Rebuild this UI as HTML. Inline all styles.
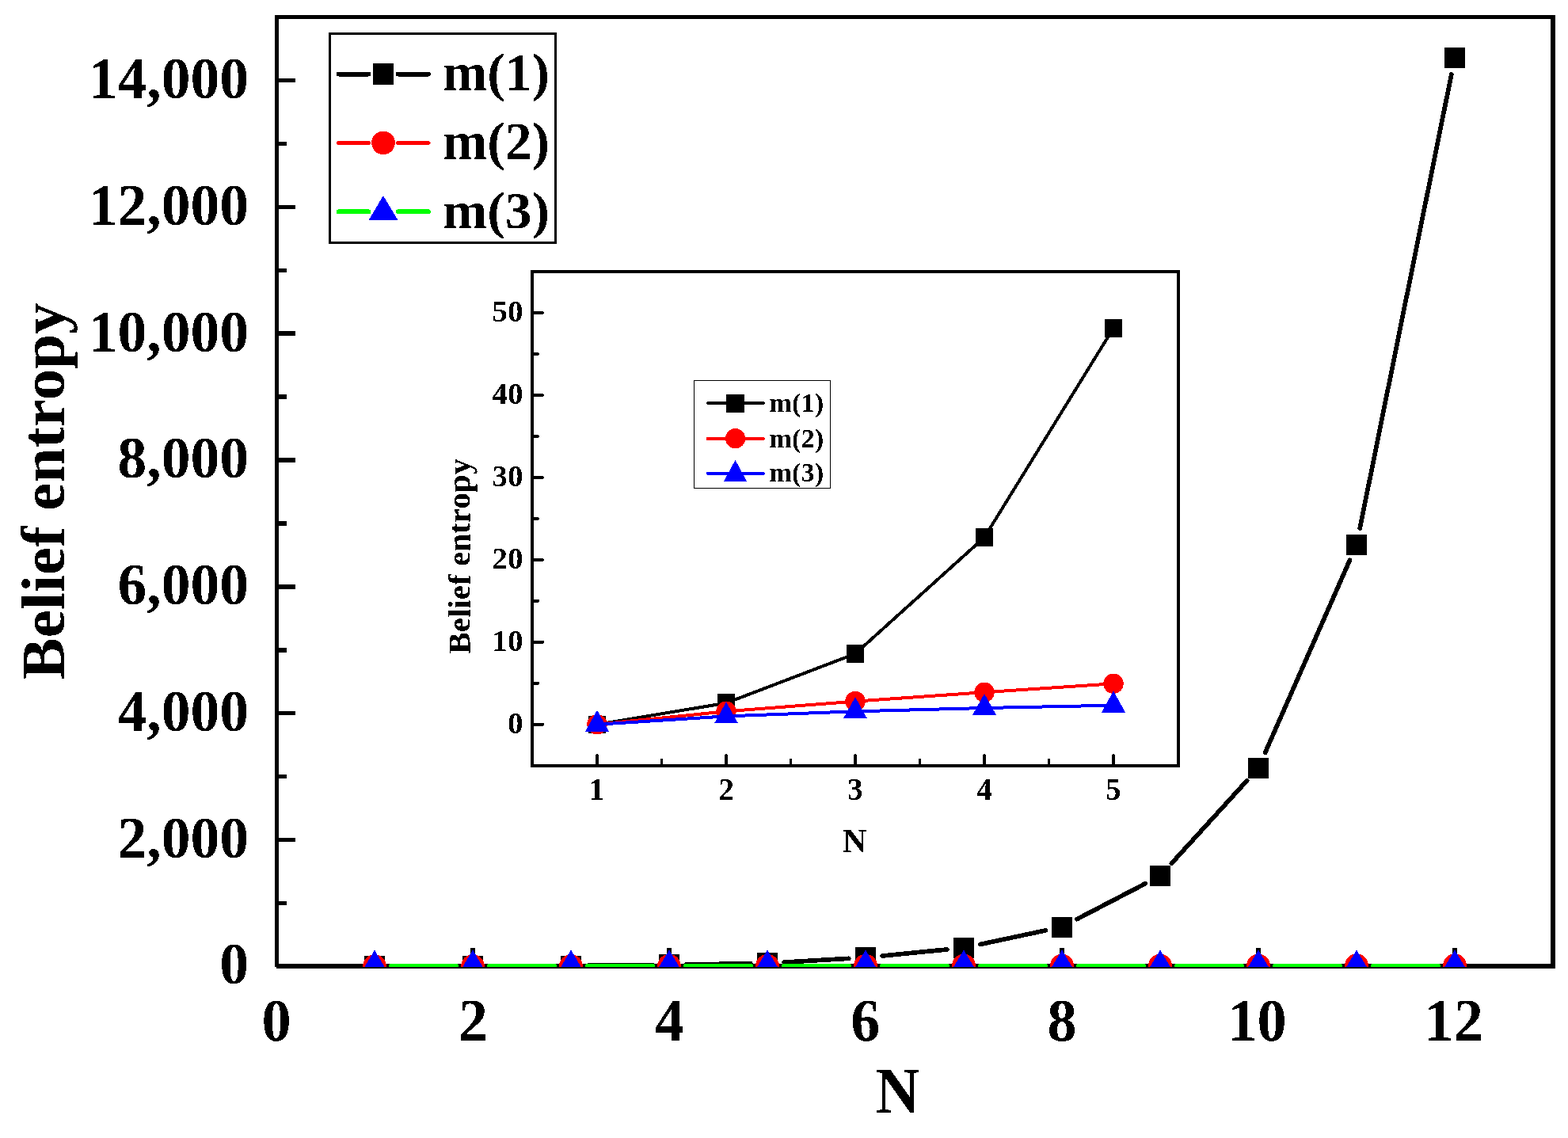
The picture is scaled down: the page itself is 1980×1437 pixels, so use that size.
<!DOCTYPE html><html><head><meta charset="utf-8"><title>Belief entropy</title><style>html,body{margin:0;padding:0;background:#fff;}svg{display:block;}rect,line,path,polyline,polygon,circle{shape-rendering:crispEdges;}text{filter:url(#bin);font-family:"Liberation Serif","Times New Roman",serif;font-weight:bold;font-size:200px;fill:#000;}</style></head><body>
<svg width="1980" height="1437" viewBox="0 0 1980 1437">
<rect x="0" y="0" width="1980" height="1437" fill="#fff"/>
<g fill="#000">
<rect x="347" y="19" width="5" height="1202"/>
<rect x="349" y="1217" width="1615" height="6"/>
<rect x="1958" y="19" width="6" height="1204"/>
<rect x="347" y="19" width="1615" height="5"/>
<rect x="351" y="1217.40" width="22" height="5.6"/>
<rect x="351" y="1137.50" width="11" height="5.6"/>
<rect x="351" y="1057.60" width="22" height="5.6"/>
<rect x="351" y="977.70" width="11" height="5.6"/>
<rect x="351" y="897.80" width="22" height="5.6"/>
<rect x="351" y="817.90" width="11" height="5.6"/>
<rect x="351" y="738.00" width="22" height="5.6"/>
<rect x="351" y="658.10" width="11" height="5.6"/>
<rect x="351" y="578.20" width="22" height="5.6"/>
<rect x="351" y="498.30" width="11" height="5.6"/>
<rect x="351" y="418.40" width="22" height="5.6"/>
<rect x="351" y="338.50" width="11" height="5.6"/>
<rect x="351" y="258.60" width="22" height="5.6"/>
<rect x="351" y="178.70" width="11" height="5.6"/>
<rect x="351" y="98.80" width="22" height="5.6"/>
<rect x="470.10" y="1208" width="5.8" height="10"/>
<rect x="594.10" y="1197" width="5.8" height="21"/>
<rect x="718.10" y="1208" width="5.8" height="10"/>
<rect x="842.10" y="1197" width="5.8" height="21"/>
<rect x="966.10" y="1208" width="5.8" height="10"/>
<rect x="1090.10" y="1197" width="5.8" height="21"/>
<rect x="1214.10" y="1208" width="5.8" height="10"/>
<rect x="1338.10" y="1197" width="5.8" height="21"/>
<rect x="1462.10" y="1208" width="5.8" height="10"/>
<rect x="1586.10" y="1197" width="5.8" height="21"/>
<rect x="1710.10" y="1208" width="5.8" height="10"/>
<rect x="1834.10" y="1197" width="5.8" height="21"/>
</g>
<defs><filter id="bin" x="-5%" y="-5%" width="110%" height="110%" color-interpolation-filters="sRGB"><feComponentTransfer><feFuncA type="discrete" tableValues="0 1"/></feComponentTransfer></filter><clipPath id="pc"><rect x="352" y="24" width="1606" height="1197"/></clipPath>
</defs>
<g clip-path="url(#pc)">
<path d="M494.30,1220.16L575.70,1220.03M618.30,1219.91L699.70,1219.60M742.30,1219.32L823.70,1218.58M866.30,1218.04L947.70,1216.71M990.26,1215.11L1071.74,1210.34M1114.20,1207.00L1195.80,1198.96M1237.83,1192.44L1320.17,1174.93M1359.90,1160.68L1446.10,1115.85M1479.35,1090.28L1574.65,985.70M1597.57,950.45L1704.43,707.40M1717.21,667.03L1832.79,93.96" fill="none" stroke="#000" stroke-width="5.7" stroke-linecap="round"/>
<g fill="#000">
<rect x="460.00" y="1207.20" width="26" height="26"/>
<rect x="584.00" y="1206.99" width="26" height="26"/>
<rect x="708.00" y="1206.51" width="26" height="26"/>
<rect x="832.00" y="1205.39" width="26" height="26"/>
<rect x="956.00" y="1203.36" width="26" height="26"/>
<rect x="1080.00" y="1196.09" width="26" height="26"/>
<rect x="1204.00" y="1183.87" width="26" height="26"/>
<rect x="1328.00" y="1157.50" width="26" height="26"/>
<rect x="1452.00" y="1093.02" width="26" height="26"/>
<rect x="1576.00" y="956.95" width="26" height="26"/>
<rect x="1700.00" y="674.91" width="26" height="26"/>
<rect x="1824.00" y="60.08" width="26" height="26"/>
</g>
<path d="M493.60,1220.18L576.40,1220.09M617.60,1220.06L700.40,1219.99M741.60,1219.96L824.40,1219.90M865.60,1219.87L948.40,1219.82M989.60,1219.79L1072.40,1219.74M1113.60,1219.71L1196.40,1219.66M1237.60,1219.63L1320.40,1219.57M1361.60,1219.55L1444.40,1219.49M1485.60,1219.47L1568.40,1219.41M1609.60,1219.39L1692.40,1219.33M1733.60,1219.31L1816.40,1219.25" fill="none" stroke="#f00" stroke-width="5" stroke-linecap="round"/>
<g fill="#f00">
<circle cx="473.00" cy="1220.20" r="14.9"/>
<circle cx="597.00" cy="1220.07" r="14.9"/>
<circle cx="721.00" cy="1219.98" r="14.9"/>
<circle cx="845.00" cy="1219.89" r="14.9"/>
<circle cx="969.00" cy="1219.80" r="14.9"/>
<circle cx="1093.00" cy="1219.72" r="14.9"/>
<circle cx="1217.00" cy="1219.64" r="14.9"/>
<circle cx="1341.00" cy="1219.56" r="14.9"/>
<circle cx="1465.00" cy="1219.48" r="14.9"/>
<circle cx="1589.00" cy="1219.40" r="14.9"/>
<circle cx="1713.00" cy="1219.32" r="14.9"/>
<circle cx="1837.00" cy="1219.24" r="14.9"/>
</g>
<path d="M493.40,1220.19L576.60,1220.13M617.40,1220.11L700.60,1220.08M741.40,1220.07L824.60,1220.05M865.40,1220.04L948.60,1220.02M989.40,1220.01L1072.60,1220.00M1113.40,1219.99L1196.60,1219.98M1237.40,1219.97L1320.60,1219.96M1361.40,1219.96L1444.60,1219.95M1485.40,1219.94L1568.60,1219.94M1609.40,1219.93L1692.60,1219.93M1733.40,1219.92L1816.60,1219.92" fill="none" stroke="#0f0" stroke-width="5.8" stroke-linecap="round"/>
<g fill="#00f">
<polygon points="473.00,1199.67 454.65,1230.47 491.35,1230.47"/>
<polygon points="597.00,1199.59 578.65,1230.39 615.35,1230.39"/>
<polygon points="721.00,1199.54 702.65,1230.34 739.35,1230.34"/>
<polygon points="845.00,1199.51 826.65,1230.31 863.35,1230.31"/>
<polygon points="969.00,1199.48 950.65,1230.28 987.35,1230.28"/>
<polygon points="1093.00,1199.46 1074.65,1230.26 1111.35,1230.26"/>
<polygon points="1217.00,1199.44 1198.65,1230.24 1235.35,1230.24"/>
<polygon points="1341.00,1199.43 1322.65,1230.23 1359.35,1230.23"/>
<polygon points="1465.00,1199.41 1446.65,1230.21 1483.35,1230.21"/>
<polygon points="1589.00,1199.40 1570.65,1230.20 1607.35,1230.20"/>
<polygon points="1713.00,1199.39 1694.65,1230.19 1731.35,1230.19"/>
<polygon points="1837.00,1199.38 1818.65,1230.18 1855.35,1230.18"/>
</g>
</g>
<rect x="416.6" y="42.6" width="284.6" height="263.4" fill="none" stroke="#000" stroke-width="3"/>
<path d="M427.60,93.50H465.40M502.80,93.50H540.70" stroke="#000" stroke-width="6" stroke-linecap="round" fill="none"/>
<rect x="471" y="80.2" width="26" height="26.4" fill="#000"/>
<path d="M426.90,180.50H466.10M502.10,180.50H541.40" stroke="#f00" stroke-width="4.6" stroke-linecap="round" fill="none"/>
<circle cx="484" cy="180.4" r="14.8" fill="#f00"/>
<path d="M427.50,267.30H465.50M502.70,267.30H540.80" stroke="#0f0" stroke-width="5.8" stroke-linecap="round" fill="none"/>
<polygon points="484,247 465.6,277.8 502.3,277.8" fill="#00f"/>
<text transform="translate(559.11,113.90) scale(0.3373,0.3333)">m(1)</text>
<text transform="translate(559.11,200.70) scale(0.3373,0.3333)">m(2)</text>
<text transform="translate(559.11,287.52) scale(0.3373,0.3306)">m(3)</text>
<text transform="translate(277.19,1241.91) scale(0.3675,0.3745)">0</text>
<text transform="translate(148.56,1082.81) scale(0.3675,0.3745)">2,000</text>
<text transform="translate(148.56,923.01) scale(0.3675,0.3745)">4,000</text>
<text transform="translate(148.56,763.21) scale(0.3675,0.3745)">6,000</text>
<text transform="translate(148.56,603.41) scale(0.3675,0.3745)">8,000</text>
<text transform="translate(111.81,443.61) scale(0.3675,0.3745)">10,000</text>
<text transform="translate(111.81,283.81) scale(0.3675,0.3745)">12,000</text>
<text transform="translate(111.81,124.01) scale(0.3675,0.3745)">14,000</text>
<text transform="translate(330.45,1314.10) scale(0.3710,0.3785)">0</text>
<text transform="translate(578.64,1314.10) scale(0.3710,0.3785)">2</text>
<text transform="translate(826.64,1314.10) scale(0.3710,0.3785)">4</text>
<text transform="translate(1074.26,1314.10) scale(0.3710,0.3785)">6</text>
<text transform="translate(1322.45,1314.10) scale(0.3710,0.3785)">8</text>
<text transform="translate(1550.42,1314.10) scale(0.3710,0.3785)">10</text>
<text transform="translate(1798.60,1314.10) scale(0.3710,0.3785)">12</text>
<text transform="translate(1105.98,1405.30) scale(0.3812,0.4115)">N</text>
<text transform="translate(80.78,858.19) rotate(-90) scale(0.3961,0.3863)">Belief entropy</text>
<g fill="none" stroke="#000">
<rect x="672.3" y="343.0" width="815.7" height="623.8" stroke-width="3.6"/>
</g>
<g stroke="#000" stroke-width="3.4" stroke-linecap="round">
<line x1="674" y1="914.80" x2="685.50" y2="914.80"/>
<line x1="674" y1="862.82" x2="679.50" y2="862.82"/>
<line x1="674" y1="810.84" x2="685.50" y2="810.84"/>
<line x1="674" y1="758.86" x2="679.50" y2="758.86"/>
<line x1="674" y1="706.88" x2="685.50" y2="706.88"/>
<line x1="674" y1="654.90" x2="679.50" y2="654.90"/>
<line x1="674" y1="602.92" x2="685.50" y2="602.92"/>
<line x1="674" y1="550.94" x2="679.50" y2="550.94"/>
<line x1="674" y1="498.96" x2="685.50" y2="498.96"/>
<line x1="674" y1="446.98" x2="679.50" y2="446.98"/>
<line x1="674" y1="395.00" x2="685.50" y2="395.00"/>
<line x1="754.00" y1="965" x2="754.00" y2="953.50"/>
<line x1="835.50" y1="965" x2="835.50" y2="959.50"/>
<line x1="917.00" y1="965" x2="917.00" y2="953.50"/>
<line x1="998.50" y1="965" x2="998.50" y2="959.50"/>
<line x1="1080.00" y1="965" x2="1080.00" y2="953.50"/>
<line x1="1161.50" y1="965" x2="1161.50" y2="959.50"/>
<line x1="1243.00" y1="965" x2="1243.00" y2="953.50"/>
<line x1="1324.50" y1="965" x2="1324.50" y2="959.50"/>
<line x1="1406.00" y1="965" x2="1406.00" y2="953.50"/>
</g>
<polyline points="754.00,914.80 917.00,887.77 1080.00,825.50 1243.00,678.60 1406.00,414.34" fill="none" stroke="#000" stroke-width="4" stroke-linejoin="round" stroke-linecap="round"/>
<g fill="#000">
<rect x="742.75" y="903.50" width="22.5" height="22.6"/>
<rect x="905.75" y="876.47" width="22.5" height="22.6"/>
<rect x="1068.75" y="814.20" width="22.5" height="22.6"/>
<rect x="1231.75" y="667.30" width="22.5" height="22.6"/>
<rect x="1394.75" y="403.04" width="22.5" height="22.6"/>
</g>
<polyline points="754.00,914.80 917.00,898.32 1080.00,885.61 1243.00,874.18 1406.00,863.30" fill="none" stroke="#f00" stroke-width="4" stroke-linejoin="round" stroke-linecap="round"/>
<g fill="#f00">
<circle cx="754.00" cy="914.80" r="12.7"/>
<circle cx="917.00" cy="898.32" r="12.7"/>
<circle cx="1080.00" cy="885.61" r="12.7"/>
<circle cx="1243.00" cy="874.18" r="12.7"/>
<circle cx="1406.00" cy="863.30" r="12.7"/>
</g>
<polyline points="754.00,914.80 917.00,904.40 1080.00,898.32 1243.00,894.01 1406.00,890.66" fill="none" stroke="#00f" stroke-width="4" stroke-linejoin="round" stroke-linecap="round"/>
<g fill="#00f">
<polygon points="754.00,896.67 738.90,923.87 769.10,923.87"/>
<polygon points="917.00,886.27 901.90,913.47 932.10,913.47"/>
<polygon points="1080.00,880.19 1064.90,907.39 1095.10,907.39"/>
<polygon points="1243.00,875.87 1227.90,903.07 1258.10,903.07"/>
<polygon points="1406.00,872.53 1390.90,899.73 1421.10,899.73"/>
</g>
<rect x="876.6" y="480.5" width="171.9" height="135.8" fill="none" stroke="#000" stroke-width="1.4"/>
<path d="M893.8,509H964" stroke="#000" stroke-width="3.8" stroke-linecap="round"/>
<rect x="917" y="498.1" width="23" height="22.8" fill="#000"/>
<path d="M893.8,554H964" stroke="#f00" stroke-width="3.9" stroke-linecap="round"/>
<circle cx="928.6" cy="553.7" r="12.6" fill="#f00"/>
<path d="M893.8,597.9H964" stroke="#00f" stroke-width="3.8" stroke-linecap="round"/>
<polygon points="928.5,580.8 914,607.9 943,607.9" fill="#00f"/>
<text transform="translate(971.24,519.67) scale(0.1723,0.1722)">m(1)</text>
<text transform="translate(971.24,564.61) scale(0.1723,0.1711)">m(2)</text>
<text transform="translate(971.24,608.41) scale(0.1723,0.1711)">m(3)</text>
<text transform="translate(641.00,925.82) scale(0.1967,0.1911)">0</text>
<text transform="translate(621.33,822.16) scale(0.1967,0.1911)">10</text>
<text transform="translate(621.33,718.20) scale(0.1967,0.1911)">20</text>
<text transform="translate(621.33,614.24) scale(0.1967,0.1911)">30</text>
<text transform="translate(621.33,510.28) scale(0.1967,0.1911)">40</text>
<text transform="translate(621.33,406.32) scale(0.1967,0.1911)">50</text>
<text transform="translate(743.56,1010.20) scale(0.1970,0.1960)">1</text>
<text transform="translate(907.25,1010.20) scale(0.1970,0.1960)">2</text>
<text transform="translate(1070.05,1010.20) scale(0.1970,0.1960)">3</text>
<text transform="translate(1233.25,1010.20) scale(0.1970,0.1960)">4</text>
<text transform="translate(1396.05,1010.20) scale(0.1970,0.1960)">5</text>
<text transform="translate(1063.74,1075.70) scale(0.2138,0.2100)">N</text>
<text transform="translate(593.51,825.62) rotate(-90) scale(0.2055,0.2022)">Belief entropy</text>
</svg></body></html>
